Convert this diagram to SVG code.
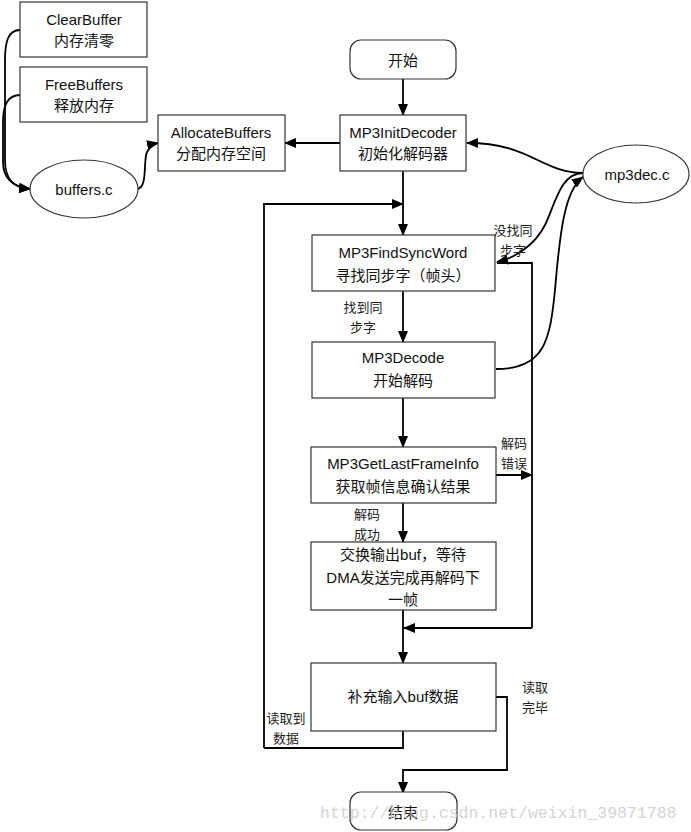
<svg xmlns="http://www.w3.org/2000/svg" width="691" height="832" viewBox="0 0 691 832">
<defs>
<marker id="ah" markerUnits="userSpaceOnUse" markerWidth="12" markerHeight="10" refX="11" refY="5" orient="auto">
<path d="M0,0 L12,5 L0,10 Z" fill="#000"/>
</marker>
<style>
.box{fill:#fff;stroke:#333;stroke-width:1.2}
.t{font-family:"Liberation Sans","Noto Sans CJK SC",sans-serif;font-size:15px;fill:#111;text-anchor:middle;dominant-baseline:central}
.l{font-family:"Noto Sans CJK SC",sans-serif;font-size:13px;fill:#222;text-anchor:middle;dominant-baseline:central}
.c{fill:none;stroke:#000;stroke-width:1.8}
.a{marker-end:url(#ah)}
</style>
</defs>
<rect width="691" height="832" fill="#fff"/>
<g id="connectors">
<path class="c a" d="M403,79 L403,115"/>
<path class="c a" d="M340,143 L285,143"/>
<path class="c a" d="M20,30 C8,30 5,42 5,60 L5,160 C5,180 14,188 30,189"/>
<path class="c a" d="M20,95 C8,95 3,105 3,122 L3,162 C3,180 14,187 30,189"/>
<path class="c a" d="M137,189 C148,189 143,160 147,152 C150,146 153,144 158,143"/>
<path class="c a" d="M583,173 C540,172 530,143 467,143"/>
<path class="c a" d="M583,173 C560,173 555,205 545,225 C535,245 515,258 497,262"/>
<path class="c a" d="M496,369 C545,369 550,340 555,290 C560,230 565,190 583,177"/>
<path class="c a" d="M403,171 L403,235"/>
<path class="c a" d="M264,748 L264,204 L403,204"/>
<path class="c a" d="M403,291 L403,342"/>
<path class="c a" d="M403,398 L403,447"/>
<path class="c a" d="M403,503 L403,542"/>
<path class="c a" d="M496,475 L532,475"/>
<path class="c" d="M497,263 L532,263 L532,628"/>
<path class="c a" d="M532,628 L404,628"/>
<path class="c a" d="M403,610 L403,663"/>
<path class="c" d="M403,731 L403,748 L264,748"/>
<path class="c a" d="M496,697 L507,697 L507,770 L403,770 L403,793"/>
</g>
<g id="clearbuffer"><rect class="box" x="20" y="2" width="127" height="55"/><text class="t" x="84" y="19">ClearBuffer</text><text class="t" x="84" y="40">内存清零</text></g>
<g id="freebuffers"><rect class="box" x="20" y="67" width="127" height="55"/><text class="t" x="84" y="84">FreeBuffers</text><text class="t" x="84" y="105">释放内存</text></g>
<g id="buffers"><ellipse class="box" cx="84" cy="189" rx="54" ry="29"/><text class="t" x="84" y="189">buffers.c</text></g>
<g id="allocate"><rect class="box" x="158" y="115" width="127" height="56"/><text class="t" x="221" y="132">AllocateBuffers</text><text class="t" x="221" y="153">分配内存空间</text></g>
<g id="start"><rect class="box" x="350" y="40" width="106" height="39" rx="11"/><text class="t" x="403" y="60">开始</text></g>
<g id="init"><rect class="box" x="340" y="115" width="126" height="56"/><text class="t" x="403" y="132">MP3InitDecoder</text><text class="t" x="403" y="153">初始化解码器</text></g>
<g id="mp3dec"><ellipse class="box" cx="636" cy="174" rx="53" ry="29"/><text class="t" x="637" y="174">mp3dec.c</text></g>
<g id="findsync"><rect class="box" x="312" y="235" width="183" height="56"/><text class="t" x="403" y="252">MP3FindSyncWord</text><text class="t" x="403" y="275">寻找同步字（帧头）</text></g>
<g id="decode"><rect class="box" x="312" y="342" width="183" height="56"/><text class="t" x="403" y="357">MP3Decode</text><text class="t" x="403" y="380">开始解码</text></g>
<g id="getlast"><rect class="box" x="311" y="447" width="185" height="56"/><text class="t" x="403" y="463">MP3GetLastFrameInfo</text><text class="t" x="403" y="486">获取帧信息确认结果</text></g>
<g id="swap"><rect class="box" x="311" y="542" width="185" height="68"/><text class="t" x="403" y="554">交换输出buf，等待</text><text class="t" x="403" y="577">DMA发送完成再解码下</text><text class="t" x="403" y="599">一帧</text></g>
<g id="fill"><rect class="box" x="311" y="663" width="185" height="68"/><text class="t" x="403" y="696">补充输入buf数据</text></g>
<g id="end"><rect class="box" x="350" y="792" width="107" height="38" rx="11"/><text class="t" x="403" y="812">结束</text></g>
<g id="labels">
<text class="l" x="513" y="229">没找同</text><text class="l" x="513" y="249">步字</text>
<text class="l" x="363" y="306">找到同</text><text class="l" x="363" y="326">步字</text>
<text class="l" x="514" y="442">解码</text><text class="l" x="514" y="462">错误</text>
<text class="l" x="367" y="513">解码</text><text class="l" x="367" y="533">成功</text>
<text class="l" x="286" y="717">读取到</text><text class="l" x="286" y="737">数据</text>
<text class="l" x="535" y="686">读取</text><text class="l" x="535" y="706">完毕</text>
</g>
<text x="320" y="818" font-family="Liberation Mono, monospace" font-size="16.5" fill="#c8c8c8" fill-opacity="0.8">http://blog.csdn.net/weixin_39871788</text>
</svg>
